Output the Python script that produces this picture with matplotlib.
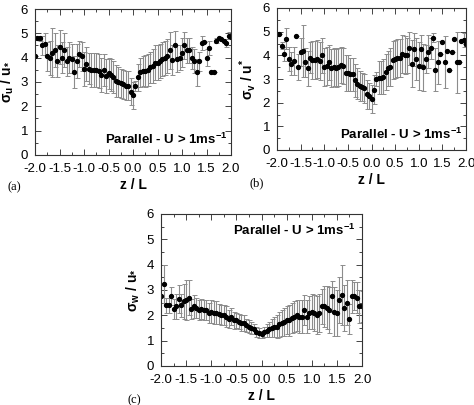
import numpy as np
import matplotlib.pyplot as plt
from matplotlib.ticker import MultipleLocator

plt.rcParams['font.family'] = ['Liberation Sans', 'DejaVu Sans']
plt.rcParams['mathtext.fontset'] = 'custom'
plt.rcParams['mathtext.rm'] = 'Liberation Sans'
plt.rcParams['mathtext.bf'] = 'Liberation Sans:bold'
plt.rcParams['mathtext.default'] = 'bf'

# z/L bins
z = np.round(np.arange(-2.0, 2.0001, 0.05), 2)

sig_u = [4.05, 4.8, 4.8, 4.5, 4.55, 4.05, 4.0, 4.2, 4.3, 3.85,
         4.45, 4.0, 4.3, 3.85, 4.0, 3.95, 3.4, 3.85, 4.15, 4.05,
         3.55, 3.75, 3.55, 3.5, 3.5, 3.5, 3.45, 3.3, 3.5, 3.25,
         3.35, 3.3, 3.2, 3.05, 3.0, 2.95, 2.9, 2.85, 2.85, 2.6,
         2.45, 2.85, 3.2, 3.4, 3.45, 3.45, 3.5, 3.6, 3.65, 3.8,
         3.8, 3.85, 3.95, 4.0, 4.05, 4.3, 3.9, 4.5, 3.95, 4.0,
         4.2, 4.5, 4.3, 4.3, 4.0, 3.85, 3.4, 3.85, 4.6, 4.65,
         4.0, 4.4, 3.4, 3.4, 4.7, 4.8, 4.75, 4.7, 4.6, 4.9,
         4.85]
err_u = [0.0, 0.0, 0.1, 0.4, 0.45, 0.6, 0.7, 1.0, 0.7, 0.65,
         0.7, 0.65, 0.7, 0.6, 0.65, 0.6, 0.65, 0.7, 0.55, 0.6,
         0.7, 0.7, 0.65, 0.7, 0.7, 0.7, 0.7, 0.7, 0.65, 0.7,
         0.65, 0.65, 0.65, 0.65, 0.6, 0.6, 0.6, 0.6, 0.6, 0.55,
         0.55, 0.2, 0.55, 0.6, 0.6, 0.65, 0.65, 0.65, 0.7, 0.7,
         0.7, 0.7, 0.7, 0.7, 0.7, 0.75, 0.6, 0.6, 0.55, 0.5,
         0.6, 0.55, 0.5, 0.5, 0.45, 0.5, 0.55, 0.4, 0.3, 0.0,
         0.35, 0.3, 0.0, 0.0, 0.1, 0.0, 0.0, 0.0, 0.15, 0.15,
         0.0]

sig_v = [4.9, 4.9, 4.4, 4.05, 4.7, 3.85, 3.65, 3.75, 4.8, 3.5,
         4.15, 4.2, 3.7, 3.45, 3.9, 3.8, 3.8, 3.85, 3.75, 4.0,
         3.5, 3.55, 3.7, 3.45, 3.5, 3.45, 3.5, 3.6, 3.55, 3.25,
         3.25, 3.2, 3.2, 2.95, 2.8, 2.7, 2.65, 2.6, 2.35, 2.3,
         2.15, 2.55, 3.0, 3.05, 3.05, 3.1, 3.3, 3.45, 3.5, 3.8,
         3.85, 3.9, 3.9, 4.05, 4.0, 4.0, 4.3, 3.65, 4.25, 3.85,
         3.55, 4.25, 3.5, 3.85, 4.15, 4.3, 4.75, 3.4, 3.7, 4.05,
         4.55, 3.7, 4.2, 3.4, 4.15, 4.7, 3.7, 3.7, 4.6, 4.65,
         4.5]
err_v = [0.0, 0.0, 0.15, 0.3, 0.45, 0.5, 0.5, 0.6, 0.0, 0.55,
         0.6, 1.1, 0.6, 0.75, 0.65, 0.8, 0.8, 0.8, 0.8, 0.75,
         0.8, 0.8, 0.75, 0.8, 0.8, 0.8, 0.8, 0.75, 0.75, 0.75,
         0.75, 0.7, 0.7, 0.7, 0.65, 0.65, 0.6, 0.6, 0.6, 0.55,
         0.6, 0.6, 0.3, 0.7, 0.7, 0.75, 0.75, 0.75, 0.8, 0.8,
         0.8, 0.8, 0.8, 0.8, 0.8, 0.75, 0.7, 1.0, 0.7, 0.9,
         1.0, 0.6, 1.0, 0.6, 0.7, 0.45, 0.2, 0.9, 0.9, 0.0,
         0.0, 1.1, 0.0, 0.0, 0.0, 0.0, 1.3, 0.0, 0.0, 0.3,
         0.0]

sig_w = [2.75, 3.25, 2.4, 2.4, 2.75, 2.25, 2.35, 2.65, 2.4, 2.55,
         2.6, 2.7, 2.25, 2.35, 2.3, 2.2, 2.25, 2.2, 2.2, 2.1,
         2.15, 2.1, 2.1, 2.05, 2.0, 2.0, 1.95, 1.85, 1.95, 1.8,
         1.8, 1.75, 1.7, 1.7, 1.6, 1.55, 1.5, 1.45, 1.35, 1.3,
         1.25, 1.35, 1.4, 1.45, 1.5, 1.55, 1.55, 1.65, 1.7, 1.75,
         1.8, 1.8, 1.9, 1.95, 2.0, 1.95, 1.95, 2.2, 1.95, 2.1,
         2.15, 2.1, 2.0, 2.1, 2.35, 2.35, 2.3, 2.2, 2.75, 2.15,
         2.1, 2.6, 2.8, 2.3, 2.5, 1.85, 2.75, 2.75, 2.7, 2.35,
         2.35]
err_w = [0.0, 0.75, 0.3, 0.3, 0.35, 0.4, 0.5, 0.55, 0.45, 0.7,
         0.8, 0.7, 0.4, 0.45, 0.4, 0.4, 0.4, 0.4, 0.4, 0.4,
         0.45, 0.45, 0.45, 0.4, 0.4, 0.4, 0.4, 0.35, 0.35, 0.35,
         0.3, 0.3, 0.3, 0.3, 0.25, 0.25, 0.25, 0.2, 0.2, 0.2,
         0.15, 0.2, 0.25, 0.3, 0.35, 0.4, 0.45, 0.5, 0.5, 0.55,
         0.55, 0.6, 0.6, 0.6, 0.6, 0.65, 0.65, 0.6, 0.65, 0.65,
         0.7, 0.7, 0.75, 0.75, 0.7, 0.8, 0.85, 0.9, 0.6, 0.95,
         0.9, 0.9, 1.2, 0.9, 0.9, 0.6, 0.65, 0.55, 0.6, 0.65,
         0.6]

panels = [
    ([35/474, 1-155/405, 196/474, 146/405], sig_u, err_u,
     r'σ$_{u}$ / u$_{*}$', '(a)', (7/474, 1-190/405), 'bottom'),
    ([277/474, 1-150/405, 189/474, 142/405], sig_v, err_v,
     r'σ$_{v}$ / u$^{*}$', '(b)', (250/474, 1-186/405), 'bottom'),
    ([161/474, 1-366/405, 201/474, 152/405], sig_w, err_w,
     r'σ$_{w}$ / u$_{*}$', '(c)', (128/474, 1-403/405), 'top'),
]

fig = plt.figure(figsize=(4.74, 4.05), dpi=100)

for rect, y, e, ylab, tag, tagpos, where in panels:
    ax = fig.add_axes(rect)
    ax.errorbar(z, y, yerr=e, fmt='o', color='black', markersize=2.8,
                ecolor='#8c8c8c', elinewidth=0.8, capsize=1.8, capthick=0.7)
    ax.set_xlim(-2.0, 2.0)
    ax.set_ylim(0, 6)
    ax.xaxis.set_minor_locator(MultipleLocator(0.25))
    ax.yaxis.set_major_locator(MultipleLocator(1))
    ax.yaxis.set_minor_locator(MultipleLocator(0.5))
    ticks = np.arange(-2.0, 2.01, 0.5)
    ax.set_xticks(ticks)
    ax.set_xticklabels(['%.1f' % t for t in ticks])
    ax.tick_params(which='both', direction='in', top=True, right=True,
                   labelsize=9.5, width=0.7, color='#444444')
    ax.tick_params(axis='x', which='major', pad=6)
    ax.tick_params(axis='y', which='major', pad=5)
    ax.tick_params(which='major', length=4)
    ax.tick_params(which='minor', length=2.5)
    for s in ax.spines.values():
        s.set_linewidth(0.8)
        s.set_color('#333333')
    ax.set_xlabel('z / L', fontsize=10, fontweight='bold', labelpad=2)
    ax.set_ylabel(ylab, fontsize=10, fontweight='bold', labelpad=3)
    if where == 'bottom':
        ax.text(0.98, 0.055, r'Parallel - U > 1ms$^{-1}$', transform=ax.transAxes,
                ha='right', va='bottom', fontsize=9.5, fontweight='bold')
    else:
        ax.text(0.97, 0.94, r'Parallel - U > 1ms$^{-1}$', transform=ax.transAxes,
                ha='right', va='top', fontsize=9.5, fontweight='bold')
    fig.text(tagpos[0], tagpos[1], tag, fontsize=9, family='Liberation Serif')

fig.savefig('out.png', dpi=100)
